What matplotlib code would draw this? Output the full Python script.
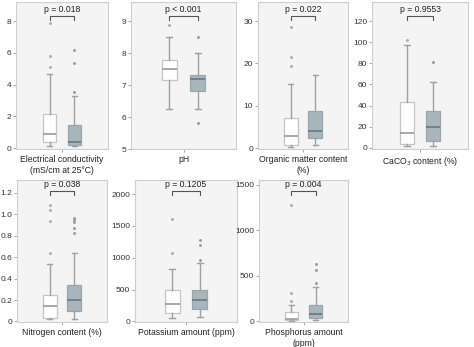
import matplotlib
matplotlib.use("Agg")
import matplotlib.pyplot as plt
from matplotlib.transforms import blended_transform_factory

plt.rcParams["font.family"] = ["Liberation Sans", "DejaVu Sans"]

# ---- data ----
labels = ["Electrical conductivity\n(mS/cm at 25°C)", "pH", "Organic matter content\n(%)",
          "CaCO$_3$ content (%)", "Nitrogen content (%)", "Potassium amount (ppm)",
          "Phosphorus amount\n(ppm)"]
pvalues = ["p = 0.018", "p < 0.001", "p = 0.022", "p = 0.9553",
           "p = 0.038", "p = 0.1205", "p = 0.004"]

# [whislo, q1, median, q3, whishi] for group A (white) and group B (grey)
ec_a = [0.1, 0.35, 0.9, 2.15, 4.65];   ec_a_fl = [5.1, 5.8, 7.9]
ec_b = [0.1, 0.2, 0.35, 1.45, 3.3];    ec_b_fl = [3.5, 5.35, 6.2]
ph_a = [6.25, 7.15, 7.5, 7.8, 8.5];    ph_a_fl = [8.87]
ph_b = [6.25, 6.82, 7.18, 7.32, 8.0];  ph_b_fl = [8.5, 5.8]
om_a = [0.2, 0.7, 2.8, 7.0, 15.2];     om_a_fl = [19.5, 21.5, 28.5]
om_b = [0.7, 2.5, 4.1, 8.7, 17.3];     om_b_fl = []
ca_a = [1.5, 4.0, 14.0, 43.0, 97.0];   ca_a_fl = [102.0]
ca_b = [2.0, 6.5, 19.5, 35.0, 62.0];   ca_b_fl = [81.0]
n_a = [0.02, 0.03, 0.14, 0.25, 0.54];  n_a_fl = [0.64, 0.94, 1.04, 1.09]
n_b = [0.02, 0.10, 0.20, 0.34, 0.64];  n_b_fl = [0.83, 0.87, 0.93, 0.95, 0.97]
k_a = [50, 130, 280, 490, 820];        k_a_fl = [1080, 1610]
k_b = [70, 190, 330, 500, 910];        k_b_fl = [970, 1200, 1280]
p_a = [0, 10, 25, 95, 175];            p_a_fl = [220, 310, 1280]
p_b = [10, 30, 80, 180, 380];          p_b_fl = [420, 560, 630]

yticks = [[0, 2, 4, 6, 8], [5, 6, 7, 8, 9], [0, 10, 20, 30], [0, 20, 40, 60, 80, 100, 120],
          [0, 0.2, 0.4, 0.6, 0.8, 1.0, 1.2], [0, 500, 1000, 1500, 2000], [0, 500, 1000, 1500]]
yticklabels = [None, None, None, None,
               ["0", "0.2", "0.4", "0.6", "0.8", "1.0", "1.2"], None, None]
ylims = [(-0.06, 9.2), (5, 9.6), (-0.2, 34.5), (-1, 138), (-0.005, 1.32), (-10, 2220), (-10, 1555)]

panels = [(ec_a, ec_a_fl, ec_b, ec_b_fl), (ph_a, ph_a_fl, ph_b, ph_b_fl),
          (om_a, om_a_fl, om_b, om_b_fl), (ca_a, ca_a_fl, ca_b, ca_b_fl),
          (n_a, n_a_fl, n_b, n_b_fl), (k_a, k_a_fl, k_b, k_b_fl),
          (p_a, p_a_fl, p_b, p_b_fl)]

# ---- layout ----
W, H = 474, 347
boxes_px = [(16, 2, 108, 149), (131, 2, 236, 149), (258, 2, 348, 149), (372, 2, 468, 149),
            (17, 180, 107, 322), (135, 180, 237, 322), (259, 180, 348, 322)]

fig = plt.figure(figsize=(W / 100, H / 100), dpi=100)
fig.patch.set_facecolor("white")

edge_a = "#c4c4c4"
face_b = "#a9b5bd"
edge_b = "#9aa6ae"
FS = 5.8

def stats(v, fl):
    return dict(whislo=v[0], q1=v[1], med=v[2], q3=v[3], whishi=v[4], fliers=fl)

for i, (a, afl, b, bfl) in enumerate(panels):
    x0, y0, x1, y1 = boxes_px[i]
    ax = fig.add_axes([x0 / W, 1 - y1 / H, (x1 - x0) / W, (y1 - y0) / H])
    ax.set_facecolor("#f4f4f4")
    for s in ax.spines.values():
        s.set_color("#cfcfcf")
        s.set_linewidth(0.8)
    sa = stats(a, afl)
    sb = stats(b, bfl)
    ax.bxp([sa], positions=[0], widths=0.55, patch_artist=True, capwidths=0.2,
           boxprops=dict(facecolor="white", edgecolor=edge_a, linewidth=0.9),
           medianprops=dict(color="#9a9a9a", linewidth=1.2),
           whiskerprops=dict(color="#a0a0a0", linewidth=1.0),
           capprops=dict(color="#a0a0a0", linewidth=1.0),
           flierprops=dict(marker="o", markersize=2.2, markerfacecolor="#b0b0b0",
                           markeredgecolor="none"))
    ax.bxp([sb], positions=[1], widths=0.55, patch_artist=True, capwidths=0.2,
           boxprops=dict(facecolor=face_b, edgecolor=edge_b, linewidth=0.9),
           medianprops=dict(color="#6a7780", linewidth=1.2),
           whiskerprops=dict(color="#a0a0a0", linewidth=1.0),
           capprops=dict(color="#a0a0a0", linewidth=1.0),
           flierprops=dict(marker="o", markersize=2.2, markerfacecolor="#a0a0a0",
                           markeredgecolor="none"))
    ax.set_xlim(-1.35, 2.35)
    ax.set_ylim(*ylims[i])
    ax.set_xticks([0.5])
    ax.set_xticklabels([labels[i]], fontsize=FS + 0.4, color="#222222", linespacing=1.25)
    ax.set_yticks(yticks[i])
    if yticklabels[i] is not None:
        ax.set_yticklabels(yticklabels[i])
    ax.tick_params(axis="y", labelsize=FS + 0.2, length=2, width=0.6, color="#999999",
                   labelcolor="#333333", pad=1.5)
    ax.tick_params(axis="x", length=2, width=0.6, color="#999999", pad=2.5)
    # significance bracket
    tr = blended_transform_factory(ax.transData, ax.transAxes)
    top, tip, ty = (0.907, 0.875, 0.915) if i < 4 else (0.925, 0.893, 0.935)
    ax.plot([0, 0, 1, 1], [tip, top, top, tip], transform=tr, color="#555555",
            linewidth=0.8, clip_on=False)
    ax.text(0.5, ty, pvalues[i], transform=tr, ha="center", va="bottom", fontsize=FS + 0.4,
            color="#222222")

fig.savefig("out.png", dpi=100)
